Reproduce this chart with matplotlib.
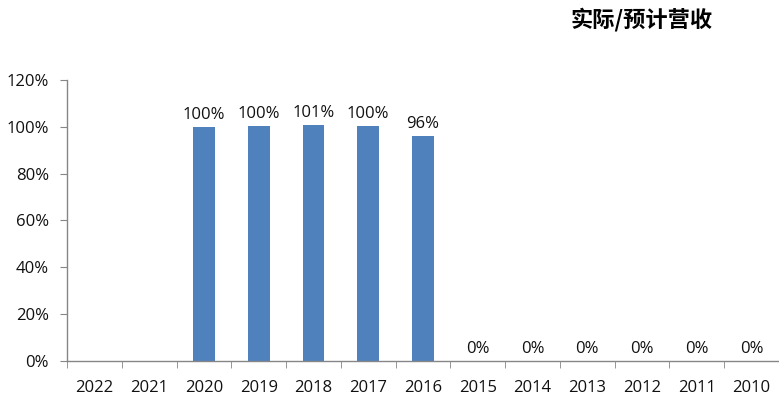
import matplotlib
matplotlib.use("Agg")
import matplotlib.pyplot as plt
import numpy as np

plt.rcParams['font.family'] = ['Open Sans', 'Noto Sans CJK SC', 'DejaVu Sans']

years = ['2022', '2021', '2020', '2019', '2018', '2017', '2016',
         '2015', '2014', '2013', '2012', '2011', '2010']
ratio = [np.nan, np.nan, 99.8, 100.4, 100.9, 100.3, 96.0,
         0, 0, 0, 0, 0, 0]
title = '实际/预计营收'

bar_color = '#4F81BD'
axis_color = '#868686'

fig = plt.figure(figsize=(7.79, 4.09), dpi=100)
ax = fig.add_axes([0.086, 0.1174, 0.914, 0.687])

x = np.arange(len(years))
vals = np.array(ratio, dtype=float)
ax.bar(x, np.nan_to_num(vals), width=0.4, color=bar_color, zorder=2)

for xi, v in zip(x, vals):
    if np.isnan(v):
        continue
    ax.annotate(f'{v:.0f}%', (xi, v), xytext=(0, 3), textcoords='offset points',
                ha='center', va='bottom', fontsize=12, color='#111111')

ax.set_xlim(-0.5, len(years) - 0.5)
ax.set_ylim(0, 120)
ax.set_yticks(np.arange(0, 121, 20))
ax.set_yticklabels([f'{t}%' for t in range(0, 121, 20)])
ax.set_xticks(x)
ax.set_xticklabels(years)
ax.set_xticks(np.arange(-0.5, len(years), 1), minor=True)

ax.tick_params(axis='x', which='major', length=0, pad=14, labelsize=12,
               labelcolor='#111111')
ax.tick_params(axis='x', which='minor', length=5, color=axis_color, direction='out')
ax.tick_params(axis='y', length=5, color=axis_color, pad=8, labelsize=12,
               labelcolor='#111111')

for s in ['top', 'right']:
    ax.spines[s].set_visible(False)
for s in ['left', 'bottom']:
    ax.spines[s].set_color(axis_color)
    ax.spines[s].set_linewidth(1.0)

fig.text(0.824, 0.951, title, ha='center', va='center', fontsize=16,
         fontweight='bold', family=['Noto Sans CJK SC', 'DejaVu Sans'])

fig.savefig('out.png', dpi=100)
